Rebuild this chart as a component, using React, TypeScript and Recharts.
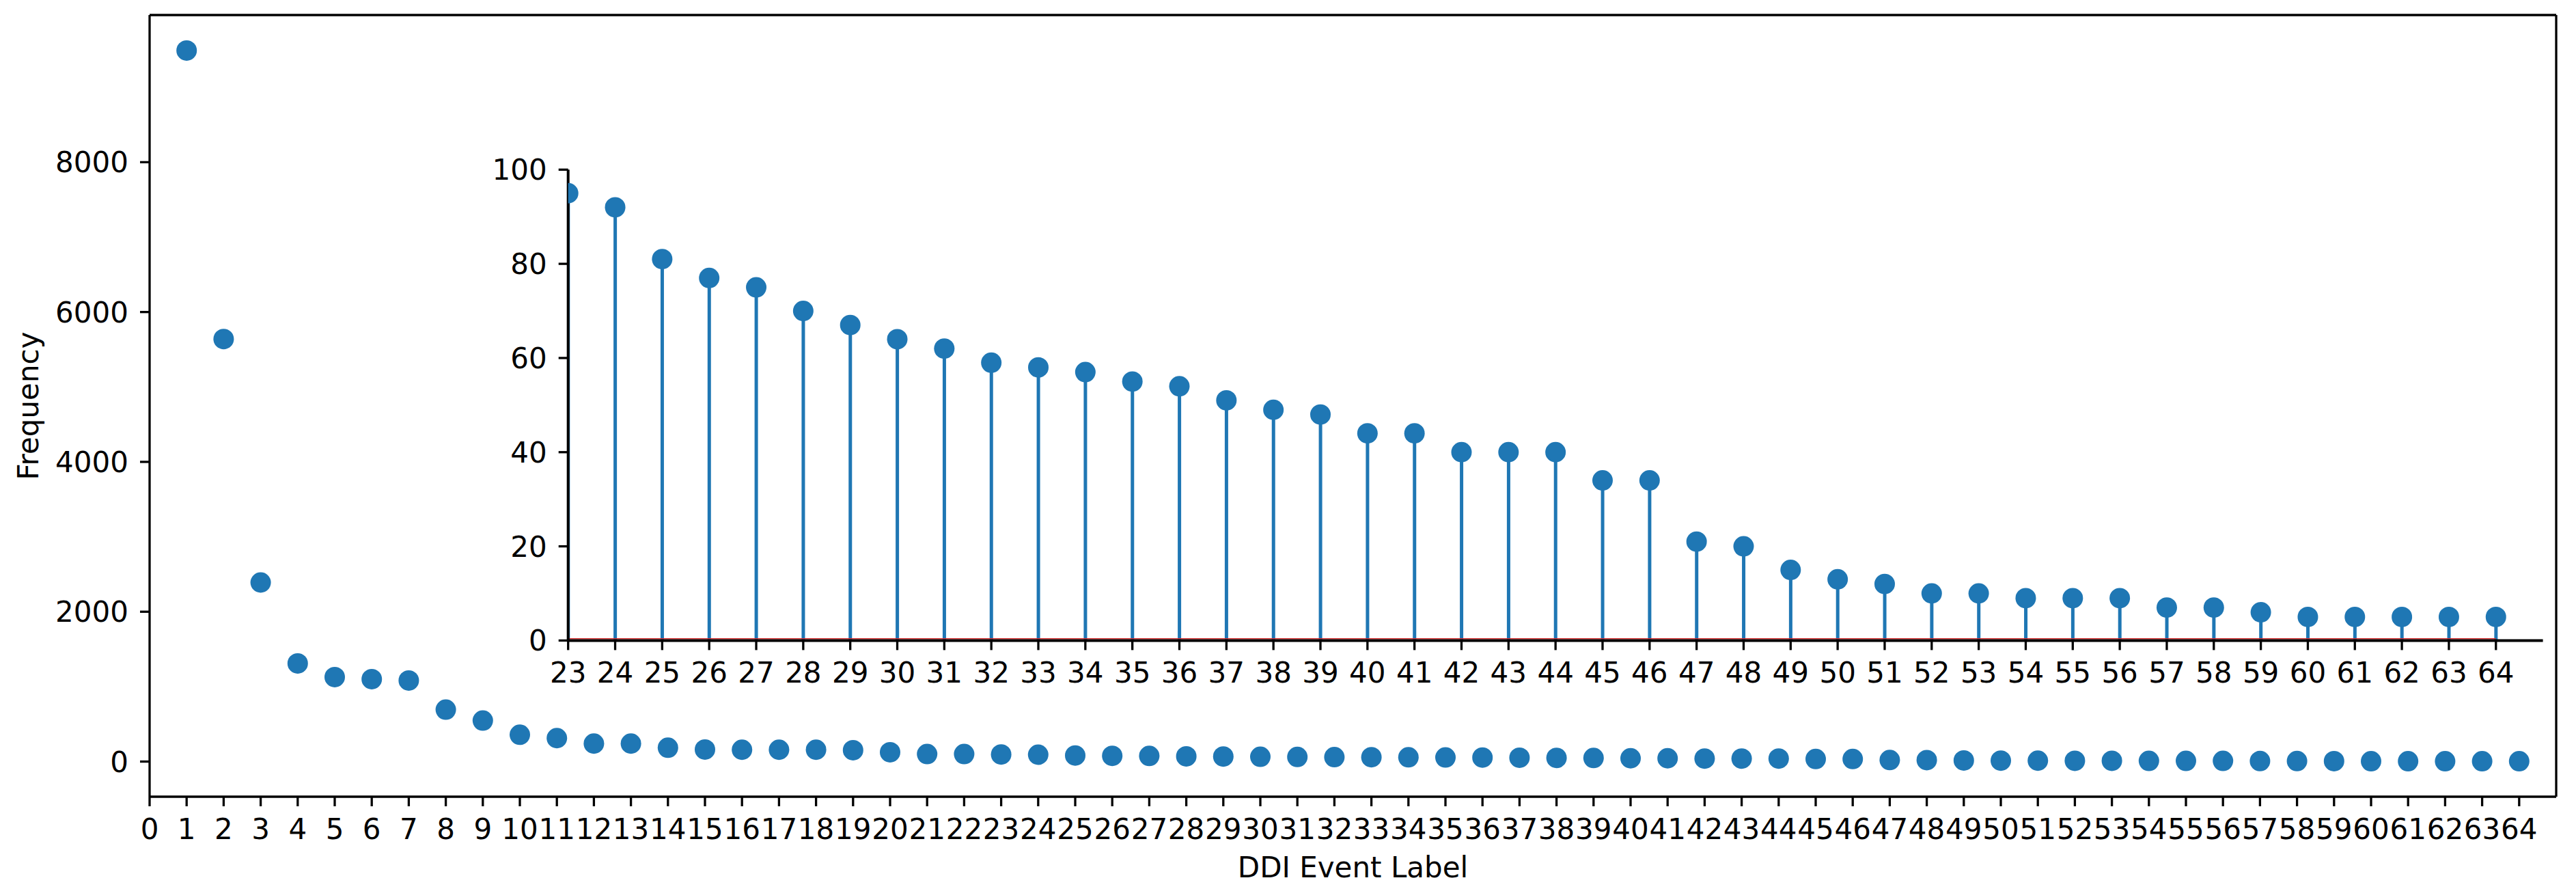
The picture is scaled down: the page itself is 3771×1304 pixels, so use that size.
import React from "react";
import {
  ScatterChart, ComposedChart, Scatter, Bar, XAxis, YAxis, ReferenceLine, Label,
} from "recharts";

// DDI event labels and how often each one shows up
const EVENT_LABELS = [
  1, 2, 3, 4, 5, 6, 7, 8, 9, 10, 11, 12, 13, 14, 15, 16, 17, 18, 19, 20, 21, 22,
  23, 24, 25, 26, 27, 28, 29, 30, 31, 32, 33, 34, 35, 36, 37, 38, 39, 40, 41, 42,
  43, 44, 45, 46, 47, 48, 49, 50, 51, 52, 53, 54, 55, 56, 57, 58, 59, 60, 61, 62, 63, 64,
];
const FREQ_HEAD = [
  9490, 5640, 2390, 1310, 1128, 1100, 1082, 693, 547, 358, 313,
  240, 240, 185, 161, 158, 158, 158, 152, 124, 100, 100,
];
const FREQ_TAIL = [
  95, 92, 81, 77, 75, 70, 67, 64, 62, 59, 58, 57, 55, 54, 51, 49, 48, 44, 44, 40, 40,
  40, 34, 34, 21, 20, 15, 13, 12, 10, 10, 9, 9, 9, 7, 7, 6, 5, 5, 5, 5, 5,
];
const FREQUENCY = [...FREQ_HEAD, ...FREQ_TAIL];

const MAIN_X_TICKS = [
  0, 1, 2, 3, 4, 5, 6, 7, 8, 9, 10, 11, 12, 13, 14, 15, 16, 17, 18, 19, 20, 21, 22,
  23, 24, 25, 26, 27, 28, 29, 30, 31, 32, 33, 34, 35, 36, 37, 38, 39, 40, 41, 42,
  43, 44, 45, 46, 47, 48, 49, 50, 51, 52, 53, 54, 55, 56, 57, 58, 59, 60, 61, 62, 63, 64,
];
const MAIN_Y_TICKS = [0, 2000, 4000, 6000, 8000];
const INSET_X_TICKS = MAIN_X_TICKS.filter((t) => t >= 23);
const INSET_Y_TICKS = [0, 20, 40, 60, 80, 100];

const BLUE = "#1f77b4";
const RED = "#d62728";
const FONT = "'DejaVu Sans', 'Liberation Sans', sans-serif";
const FS = 42;

const mainData = EVENT_LABELS.map((x, i) => ({ x, y: FREQUENCY[i] }));
const insetData = mainData.filter((d) => d.x >= 23);

const spine = { stroke: "#000", strokeWidth: 3.3 };
const insetSpine = { stroke: "#000", strokeWidth: 4 };

const xTick = (p: any) => (
  <text x={p.x} y={p.y + 48} textAnchor="middle" fontFamily={FONT} fontSize={FS} fill="#000">
    {p.payload.value}
  </text>
);
const yTick = (p: any) => (
  <text x={p.x - 17} y={p.y + 15} textAnchor="end" fontFamily={FONT} fontSize={FS} fill="#000">
    {p.payload.value}
  </text>
);
const dot = (p: any) => <circle cx={p.cx} cy={p.cy} r={15} fill={BLUE} />;

export default function App() {
  return (
    <div style={{ position: "absolute", left: 0, top: 0, width: 3771, height: 1304, background: "#fff" }}>
      {/* main scatter */}
      <div style={{ position: "absolute", left: 0, top: 0 }}>
        <ScatterChart width={3771} height={1304} margin={{ top: 21, right: 28, bottom: 0, left: 0 }}>
          <XAxis
            dataKey="x" type="number" domain={[0, 65]} ticks={MAIN_X_TICKS} interval={0}
            height={138} tickSize={14} tickMargin={0} tick={xTick}
            axisLine={spine} tickLine={spine} allowDataOverflow
          >
            <Label
              content={(p: any) => (
                <text
                  x={p.viewBox.x + p.viewBox.width / 2} y={p.viewBox.y + 118}
                  textAnchor="middle" fontFamily={FONT} fontSize={FS} fill="#000"
                >
                  DDI Event Label
                </text>
              )}
            />
          </XAxis>
          <YAxis
            dataKey="y" type="number" domain={[-469, 9964]} ticks={MAIN_Y_TICKS} interval={0}
            width={219} tickSize={14} tickMargin={0} tick={yTick}
            axisLine={spine} tickLine={spine} allowDataOverflow
          >
            <Label
              content={(p: any) => {
                const cy = p.viewBox.y + p.viewBox.height / 2;
                return (
                  <text
                    x={56} y={cy} transform={`rotate(-90 56 ${cy})`}
                    textAnchor="middle" fontFamily={FONT} fontSize={FS} fill="#000"
                  >
                    Frequency
                  </text>
                );
              }}
            />
          </YAxis>
          {/* top / right spines of the box */}
          <XAxis xAxisId="top" orientation="top" type="number" domain={[0, 65]} height={1} tick={false} tickLine={false} axisLine={spine} />
          <YAxis yAxisId="right" orientation="right" type="number" domain={[0, 1]} width={1} tick={false} tickLine={false} axisLine={spine} />
          <Scatter data={mainData} dataKey="y" shape={dot} isAnimationActive={false} />
        </ScatterChart>
      </div>

      {/* inset stem plot, labels 23-64 */}
      <div style={{ position: "absolute", left: 700, top: 200 }}>
        <ComposedChart
          width={3060} height={830} data={insetData}
          margin={{ top: 48.3, right: 37.4, bottom: 12.6, left: 0 }}
        >
          <XAxis
            dataKey="x" type="number" domain={[23, 65]} ticks={INSET_X_TICKS} interval={0}
            height={80} tickSize={14} tickMargin={0} tick={xTick}
            axisLine={insetSpine} tickLine={spine} allowDataOverflow
          />
          <YAxis
            type="number" domain={[0, 100]} ticks={INSET_Y_TICKS} interval={0}
            width={131.7} tickSize={14} tickMargin={0} tick={yTick}
            axisLine={insetSpine} tickLine={spine} allowDataOverflow
          />
          <Bar dataKey="y" barSize={5} fill={BLUE} isAnimationActive={false} />
          <ReferenceLine
            segment={[{ x: 23, y: 0 }, { x: 64, y: 0 }]}
            shape={(p: any) => (
              <line x1={p.x1} y1={p.y1 - 2.6} x2={p.x2} y2={p.y2 - 2.6} stroke={RED} strokeWidth={1.4} />
            )}
          />
          <Scatter data={insetData} dataKey="y" shape={dot} isAnimationActive={false} />
        </ComposedChart>
      </div>
    </div>
  );
}
